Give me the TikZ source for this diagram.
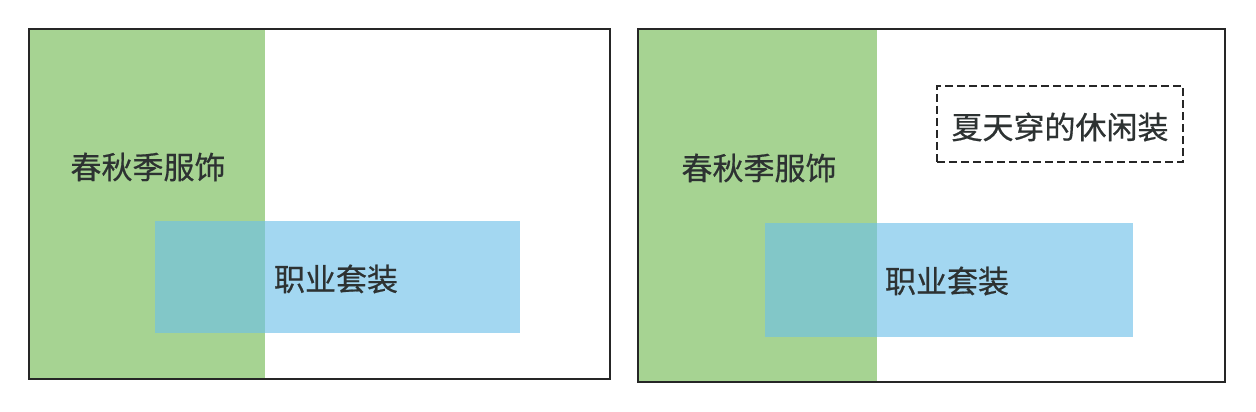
\documentclass[tikz,border=0pt]{standalone}
\usepackage{fontspec}
\newfontfamily\cjk[RawFeature={embolden=0.6}]{Noto Sans CJK SC}
\definecolor{springgreen}{RGB}{166,211,146}
\definecolor{suitblue}{RGB}{108,192,234}
\definecolor{txt}{RGB}{45,50,50}
\tikzset{
  frame/.style={draw=black!85, line width=1.8pt},
  greenbar/.style={fill=springgreen, draw=none},
  bluebar/.style={fill=suitblue, fill opacity=0.62, draw=none},
  lbl/.style={font=\cjk\fontsize{31}{36}\selectfont, text=txt, inner sep=0pt},
  dashbox/.style={draw=black!85, line width=1.7pt, dash pattern=on 8pt off 4pt, minimum width=246pt, minimum height=76pt}
}
\begin{document}
\begin{tikzpicture}[x=1pt,y=-1pt]
\useasboundingbox (0,0) rectangle (1256,412);
\fill[white] (0,0) rectangle (1256,412);
% left panel
\fill[greenbar] (29,29) rectangle (265,379);
\fill[bluebar] (155,221) rectangle (520,333);
\draw[frame] (29,29) rectangle (610,379);
\node[lbl] (l1) at (148,167) {春秋季服饰};
\node[lbl] (l2) at (336,279) {职业套装};
% right panel
\fill[greenbar] (638,29) rectangle (877,382);
\fill[bluebar] (765,223) rectangle (1133,337);
\draw[frame] (638,29) rectangle (1225,382);
\node[lbl] (r1) at (759,168) {春秋季服饰};
\node[lbl] (r2) at (947,281) {职业套装};
\node[dashbox] (r3box) at (1060,124) {};
\node[lbl] (r3) at (1060,127) {夏天穿的休闲装};
\end{tikzpicture}
\end{document}
